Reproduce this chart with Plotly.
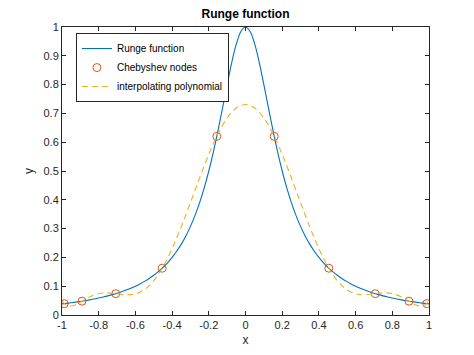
import plotly.graph_objects as go

# Runge function samples (x >= 0 half; mirrored for x < 0)
runge_x_half = [0.0, 0.025, 0.05, 0.075, 0.1, 0.125, 0.15, 0.175, 0.2, 0.225, 0.25, 0.275,
                0.3, 0.325, 0.35, 0.375, 0.4, 0.425, 0.45, 0.475, 0.5, 0.525, 0.55, 0.575,
                0.6, 0.625, 0.65, 0.675, 0.7, 0.725, 0.75, 0.775, 0.8, 0.825, 0.85, 0.875,
                0.9, 0.925, 0.95, 0.975, 1.0]
runge_y_half = [1.0, 0.98462, 0.94118, 0.87671, 0.8, 0.71910, 0.64, 0.56637, 0.5, 0.44138,
                0.39024, 0.34595, 0.30769, 0.27468, 0.24615, 0.22145, 0.2, 0.18130, 0.16495,
                0.15059, 0.13793, 0.12673, 0.11679, 0.10793, 0.1, 0.09289, 0.08649, 0.08071,
                0.07547, 0.07072, 0.06639, 0.06244, 0.05882, 0.05551, 0.05246, 0.04965,
                0.04706, 0.04466, 0.04244, 0.04038, 0.03846]

# Chebyshev nodes
node_x = [-0.98769, -0.89101, -0.70711, -0.45399, -0.15643, 0.15643, 0.45399, 0.70711, 0.89101, 0.98769]
node_y = [0.03939, 0.04797, 0.07407, 0.16253, 0.62042, 0.62042, 0.16253, 0.07407, 0.04797, 0.03939]

# Interpolating polynomial samples (x >= 0 half; mirrored)
poly_x_half = [0.0, 0.05, 0.1, 0.15, 0.2, 0.25, 0.3, 0.35, 0.4, 0.45, 0.5, 0.55, 0.6, 0.65,
               0.7, 0.75, 0.8, 0.85, 0.875, 0.9, 0.925, 0.95, 0.975, 1.0]
poly_y_half = [0.73082, 0.71887, 0.68395, 0.62879, 0.55766, 0.47605, 0.39015, 0.30627, 0.23027,
               0.16693, 0.11937, 0.08861, 0.07339, 0.07015, 0.07344, 0.07687, 0.07448, 0.06293,
               0.05412, 0.04452, 0.03592, 0.03102, 0.03363, 0.04881]

runge_x = [-v for v in runge_x_half[:0:-1]] + runge_x_half
runge_y = runge_y_half[:0:-1] + runge_y_half
poly_x = [-v for v in poly_x_half[:0:-1]] + poly_x_half
poly_y = poly_y_half[:0:-1] + poly_y_half

x_ticks = [-1, -0.8, -0.6, -0.4, -0.2, 0, 0.2, 0.4, 0.6, 0.8, 1]
y_ticks = [0, 0.1, 0.2, 0.3, 0.4, 0.5, 0.6, 0.7, 0.8, 0.9, 1]

FONT = "Liberation Sans, Arial"

fig = go.Figure()
fig.add_trace(go.Scatter(x=runge_x, y=runge_y, mode="lines", name="Runge function",
                         line=dict(color="#0072BD", width=1.1, shape="spline")))
fig.add_trace(go.Scatter(x=node_x, y=node_y, mode="markers", name="Chebyshev nodes",
                         marker=dict(symbol="circle-open", size=8, color="#D95319",
                                     line=dict(width=1, color="#D95319"))))
fig.add_trace(go.Scatter(x=poly_x, y=poly_y, mode="lines", name="interpolating polynomial",
                         line=dict(color="#EDB120", width=1.1, dash="6px,4px", shape="spline")))

axis_common = dict(showline=True, linecolor="#262626", linewidth=1, mirror="ticks",
                   ticks="inside", ticklen=4, tickcolor="#262626", tickwidth=1,
                   showgrid=False, zeroline=False, automargin=False,
                   tickfont=dict(family=FONT, size=11, color="#262626"))

# page body adds an 8px offset; figure sized to fill the rest of the window
fig.update_layout(
    width=466, height=347,
    margin=dict(l=54, r=45, t=19, b=40),
    paper_bgcolor="white", plot_bgcolor="white",
    title=dict(text="<b>Runge function</b>", x=0.5, xanchor="center", xref="paper",
               y=1 - 1.5 / 347, yanchor="top",
               font=dict(family=FONT, size=12, color="black")),
    xaxis=dict(range=[-1, 1], tickvals=x_ticks, ticktext=[f"{v:g}" for v in x_ticks],
               title=dict(text="x", standoff=5, font=dict(family=FONT, size=12, color="#262626")),
               **axis_common),
    yaxis=dict(range=[0, 1], tickvals=y_ticks, ticktext=[f"{v:g}" for v in y_ticks],
               title=dict(text="y", standoff=7, font=dict(family=FONT, size=12, color="#262626")),
               **axis_common),
    showlegend=True,
    legend=dict(x=0.038, y=0.979, xanchor="left", yanchor="top",
                bgcolor="white", bordercolor="#262626", borderwidth=1,
                font=dict(family=FONT, size=10, color="black"),
                tracegroupgap=0, itemwidth=30),
)

fig.write_html("out.html")
